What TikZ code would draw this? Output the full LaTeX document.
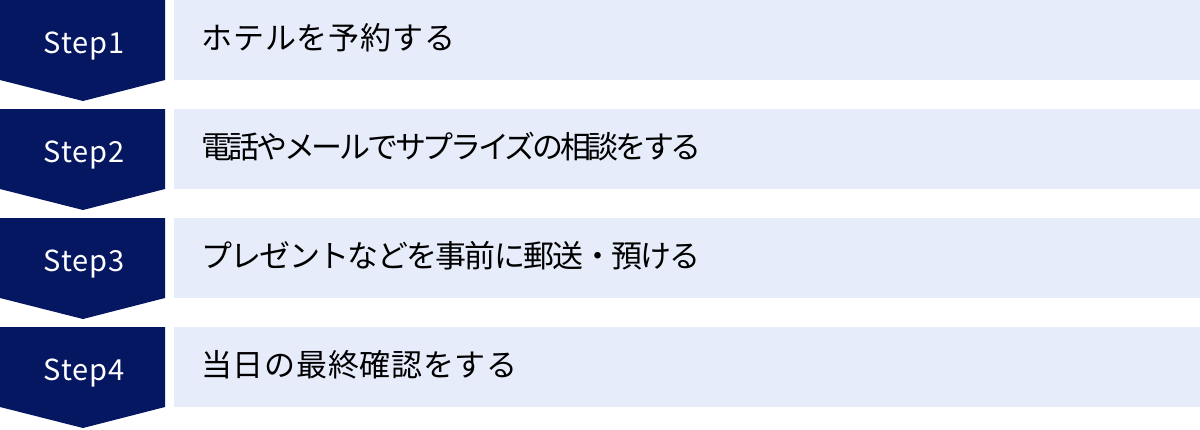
\documentclass[tikz,border=0pt]{standalone}
\usepackage{fontspec}
\setmainfont{Noto Sans CJK JP}
\newfontfamily\stepfont[LetterSpace=3]{Noto Sans CJK JP}
\usetikzlibrary{calc}
\definecolor{navy}{HTML}{061762}
\definecolor{paleblue}{HTML}{E6ECF9}

\begin{document}
\begin{tikzpicture}[x=1pt,y=-1pt,
  steptag/.style={anchor=base,inner sep=0pt,text=white,font=\stepfont\fontsize{29}{34}\selectfont},
  tasktext/.style={anchor=base west,inner sep=0pt,text=black,font=\fontsize{31}{36}\selectfont}]
\useasboundingbox (0,0) rectangle (1200,429);
\foreach \n/\ls/\txt in {1/3/ホテルを予約する,
                         2/-10.7/電話やメールでサプライズの相談をする,
                         3/-5.5/プレゼントなどを事前に郵送・預ける,
                         4/2.3/当日の最終確認をする}{
  \pgfmathsetmacro\rowtop{(\n-1)*109}
  % chevron and bar
  \fill[navy] (0,\rowtop) -- (165,\rowtop) -- (165,\rowtop+80) -- (83,\rowtop+101) -- (0,\rowtop+80) -- cycle;
  \fill[paleblue] (174,\rowtop) rectangle (1200,\rowtop+80);
  \node[steptag] (step\n) at (84,\rowtop+53) {Step\n};
  \node[tasktext] (task\n) at (201,\rowtop+49) {\addfontfeature{LetterSpace=\ls}\txt};
}
\end{tikzpicture}
\end{document}
